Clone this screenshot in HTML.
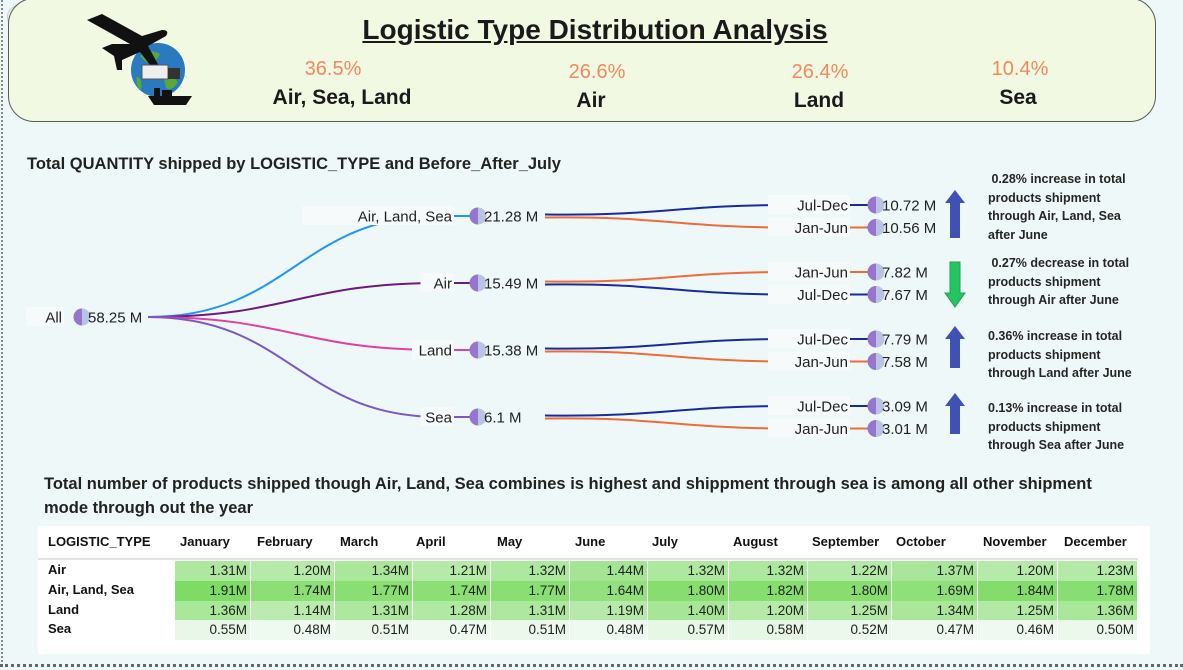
<!DOCTYPE html>
<html><head><meta charset="utf-8">
<style>
body{margin:0;width:1183px;height:670px;background:#eef8f8;font-family:"Liberation Sans",sans-serif;position:relative;overflow:hidden}
.abs{position:absolute}
#hdr{left:8px;top:-2px;width:1148px;height:124px;background:#f1f9e3;border:1.5px solid #5a5a5a;border-radius:26px;box-sizing:border-box}
.kp{position:absolute;color:#ef8a5f;font-size:20px;text-align:center;width:200px}
.kl{position:absolute;color:#1a1a1a;font-size:21px;font-weight:bold;text-align:center;width:200px}
.note{position:absolute;font-size:12.5px;font-weight:bold;color:#252525;line-height:18.5px}
#tbl{left:38px;top:526px;width:1112px;height:128px;background:#fff}
.th{position:absolute;top:534px;font-size:13px;font-weight:bold;color:#111}
.rl{position:absolute;left:48px;font-size:13px;font-weight:bold;color:#111}
.cell{position:absolute;font-size:13.5px;color:#222;text-align:right;box-sizing:border-box;padding-right:3px;line-height:19.5px;height:19.5px}
</style></head><body>
<div class="abs" style="left:1px;top:0;width:0;height:666px;border-left:2px dotted #888"></div>
<div class="abs" style="left:0;top:664px;width:1183px;height:0;border-top:3px dotted #666"></div>
<div class="abs" style="left:7px;top:5px;width:24px;height:24px;border:1.5px solid #ccc;border-radius:50%;box-sizing:border-box;color:#ccc;font-size:15px;text-align:center;line-height:20px">←</div>

<div id="hdr" class="abs"></div>
<svg class="abs" style="left:82px;top:8px" width="120" height="100" viewBox="0 0 120 100">
 <g stroke="#ccc" stroke-width="1" opacity="0.7"><line x1="40" y1="35" x2="90" y2="85"/><line x1="50" y1="30" x2="100" y2="80"/><line x1="60" y1="28" x2="105" y2="70"/></g>
 <circle cx="76" cy="62" r="27" fill="#2a7ac0"/>
 <path d="M58 48 q10 -8 20 -2 q-4 10 -14 8z M82 70 q8 -4 14 4 q-6 10 -12 6z M55 68 q6 4 4 14 q-6 -4 -4 -14z" fill="#5aa83a"/>
 <path d="M5 12 L20 6 L60 28 L80 22 Q88 22 84 28 L66 38 L78 60 L72 62 L58 44 L40 52 L40 62 L35 62 L32 48 L20 40 L30 36 L48 36 Z" fill="#111"/>
 <rect x="60" y="57" width="26" height="14" fill="#eee" stroke="#555"/>
 <rect x="86" y="60" width="12" height="11" fill="#333"/>
 <rect x="72" y="80" width="6" height="8" fill="#111"/><rect x="80" y="82" width="10" height="6" fill="#111"/>
 <path d="M66 88 L110 88 L104 97 L72 97 Z" fill="#111"/>
</svg>
<div class="abs" style="left:300px;top:14px;width:590px;text-align:center;font-size:28px;font-weight:bold;color:#1a1a1a;text-decoration:underline">Logistic Type Distribution Analysis</div>
<div class="kp" style="left:233px;top:58px">36.5%</div>
<div class="kl" style="left:242px;top:86px">Air, Sea, Land</div>
<div class="kp" style="left:497px;top:61px">26.6%</div>
<div class="kl" style="left:491px;top:89px">Air</div>
<div class="kp" style="left:720px;top:61px">26.4%</div>
<div class="kl" style="left:719px;top:89px">Land</div>
<div class="kp" style="left:920px;top:58px">10.4%</div>
<div class="kl" style="left:918px;top:86px">Sea</div>

<div class="abs" style="left:27px;top:155px;font-size:16.5px;font-weight:bold;color:#222">Total QUANTITY shipped by LOGISTIC_TYPE and Before_After_July</div>

<svg id="tree" class="abs" style="left:0;top:170px" width="1183" height="290"></svg>

<svg class="abs" style="left:940px;top:185px" width="30" height="255">
 <path d="M15 5 L25 18 L20 18 L20 53 L10 53 L10 18 L5 18Z" fill="#3f51b5"/>
 <path d="M10 77 L20 77 L20 108 L25 108 L15 122 L5 108 L10 108Z" fill="#22c55e" stroke="#2a9a60"/>
 <path d="M15 141 L25 154 L20 154 L20 183 L10 183 L10 154 L5 154Z" fill="#3f51b5"/>
 <path d="M15 208 L25 221 L20 221 L20 249 L10 249 L10 221 L5 221Z" fill="#3f51b5"/>
</svg>
<div class="note" style="left:988px;top:170px">&nbsp;0.28% increase in total<br>products shipment<br>through Air, Land, Sea<br>after June</div>
<div class="note" style="left:988px;top:254px">&nbsp;0.27% decrease in total<br>products shipment<br>through Air after June</div>
<div class="note" style="left:988px;top:327px">0.36% increase in total<br>products shipment<br>through Land after June</div>
<div class="note" style="left:988px;top:399px">0.13% increase in total<br>products shipment<br>through Sea after June</div>

<div class="abs" style="left:44px;top:472px;width:1075px;font-size:16.5px;font-weight:bold;color:#222;line-height:24px">Total number of products shipped though Air, Land, Sea combines is highest and shippment through sea is among all other shipment mode through out the year</div>
<div id="tbl" class="abs"></div>
<div class="th" style="left:48px">LOGISTIC_TYPE</div>
<div class="abs" style="left:38px;top:558px;width:1100px;height:2px;background:#e2e2e2"></div>
<div id="mat"></div>

<script>
// ---- tree data ----
const rootLabel = "All";
const rootValue = 58.25;
const l2Labels = ["Air, Land, Sea","Air","Land","Sea"];
const l2Values = [21.28,15.49,15.38,6.1];
const l2Colors = ["#2196f3","#6a1b7e","#e040a0","#7e57c2"];
const l3Labels = [["Jul-Dec","Jan-Jun"],["Jan-Jun","Jul-Dec"],["Jul-Dec","Jan-Jun"],["Jul-Dec","Jan-Jun"]];
const l3Values = [[10.72,10.56],[7.82,7.67],[7.79,7.58],[3.09,3.01]];
// ---- matrix data ----
const months = ["January","February","March","April","May","June","July","August","September","October","November","December"];
const rowLabels = ["Air","Air, Land, Sea","Land","Sea"];
const airVals = [1.31,1.20,1.34,1.21,1.32,1.44,1.32,1.32,1.22,1.37,1.20,1.23];
const alsVals = [1.91,1.74,1.77,1.74,1.77,1.64,1.80,1.82,1.80,1.69,1.84,1.78];
const landVals = [1.36,1.14,1.31,1.28,1.31,1.19,1.40,1.20,1.25,1.34,1.25,1.36];
const seaVals = [0.55,0.48,0.51,0.47,0.51,0.48,0.57,0.58,0.52,0.47,0.46,0.50];

const NS="http://www.w3.org/2000/svg";
const svg=document.getElementById('tree');
function mk(tag,attrs,parent){const e=document.createElementNS(NS,tag);for(const k in attrs)e.setAttribute(k,attrs[k]);(parent||svg).appendChild(e);return e;}
const yOff=170;
const rootY=317-yOff, l2Y=i=>216+i*67-yOff, l3Y=(i,j)=>205+i*67+j*22.5-yOff;
const x1=82,x2=478,x3=876;
function fmt(v){return v+" M";}
function pie(cx,cy,frac,name){
  const g=mk('g',{});
  
  
  mk('circle',{cx:cx,cy:cy,r:8.5,fill:'#b8c4e2'},g);
  const a=frac*2*Math.PI;
  const ex=cx-8.5*Math.sin(a), ey=cy-8.5*Math.cos(a);
  mk('path',{d:`M${cx} ${cy} L${cx} ${cy-8.5} A8.5 8.5 0 ${frac>0.5?1:0} 0 ${ex} ${ey} Z`,fill:'#9575cd'},g);
}
function label(x,y,t,anchor,name,bgw){
  const g=mk('g',{});
  
  
  if(bgw){const bx=anchor==='end'?x-bgw:x-2;mk('rect',{x:bx,y:y-10,width:bgw+2,height:19,fill:'#f6fafb'},g);}
  const t2=mk('text',{x:x,y:y+5.5,'text-anchor':anchor,'font-size':15,fill:'#222','font-family':'Liberation Sans, sans-serif'},g);
  t2.textContent=t;
}
// level1 -> level2 links
l2Values.forEach((v,i)=>{
  const y=l2Y(i);
  const p=mk('path',{d:`M148 ${rootY} C290 ${rootY} 300 ${y} 440 ${y} L${x2} ${y}`,fill:'none',stroke:l2Colors[i],'stroke-width':2});
  
  
  l3Values[i].forEach((w,j)=>{
    const yy=l3Y(i,j);
    const c=l3Labels[i][j]==="Jul-Dec"?"#1a2a9c":"#ef6c3a";
    const q=mk('path',{d:`M545 ${y+(j?1.5:-1.5)} C660 ${y} 680 ${yy} 790 ${yy} L${x3} ${yy}`,fill:'none',stroke:c,'stroke-width':2});
    
    
  });
});
label(62,rootY,rootLabel,'end','root-label',36);
pie(x1,rootY,0.5,'root-node');
label(88,rootY,fmt(rootValue),'start','root-value');
l2Values.forEach((v,i)=>{
  const y=l2Y(i);
  label(452,y,l2Labels[i],'end','l2-label-'+i,i===0?150:l2Labels[i].length*8.5+6);
  pie(x2,y,0.5,'l2-node-'+i);
  label(484,y,fmt(v),'start','l2-value-'+i);
  l3Values[i].forEach((w,j)=>{
    const yy=l3Y(i,j);
    label(848,yy,l3Labels[i][j],'end','l3-label-'+i+'-'+j,80);
    pie(x3,yy,0.5,'l3-node-'+i+'-'+j);
    label(882,yy,fmt(w),'start','l3-value-'+i+'-'+j);
  });
});
// matrix
const colEdges=[175,251,335,413,491,570,648,729,808,892,978,1058,1138];
const headX=[180,257,340,416,497,575,652,733,812,896,983,1064];
const rowTops=[561,581,600.5,620];
const series=[airVals,alsVals,landVals,seaVals];
const mat=document.getElementById('mat');
function col(v){
  const t=Math.max(0,Math.min(1,(v-0.46)/(1.91-0.46)));
  const a=[240,249,241],b=[126,220,100];
  return `rgb(${a.map((c,k)=>Math.round(c+(b[k]-c)*t)).join(',')})`;
}
months.forEach((m,i)=>{
  const d=document.createElement('div');d.className='th';d.style.left=headX[i]+'px';d.textContent=m;
  
  
  mat.appendChild(d);
});
rowLabels.forEach((r,ri)=>{
  const d=document.createElement('div');d.className='rl';d.style.top=(rowTops[ri]+1)+'px';d.textContent=r;
  
  
  mat.appendChild(d);
  series[ri].forEach((v,ci)=>{
    const c=document.createElement('div');c.className='cell';
    c.style.left=colEdges[ci]+'px';c.style.width=(colEdges[ci+1]-colEdges[ci]-1)+'px';
    c.style.top=rowTops[ri]+'px';c.style.background=col(v);
    c.textContent=v.toFixed(2)+'M';
    
    
    mat.appendChild(c);
  });
});
</script>
</body></html>
